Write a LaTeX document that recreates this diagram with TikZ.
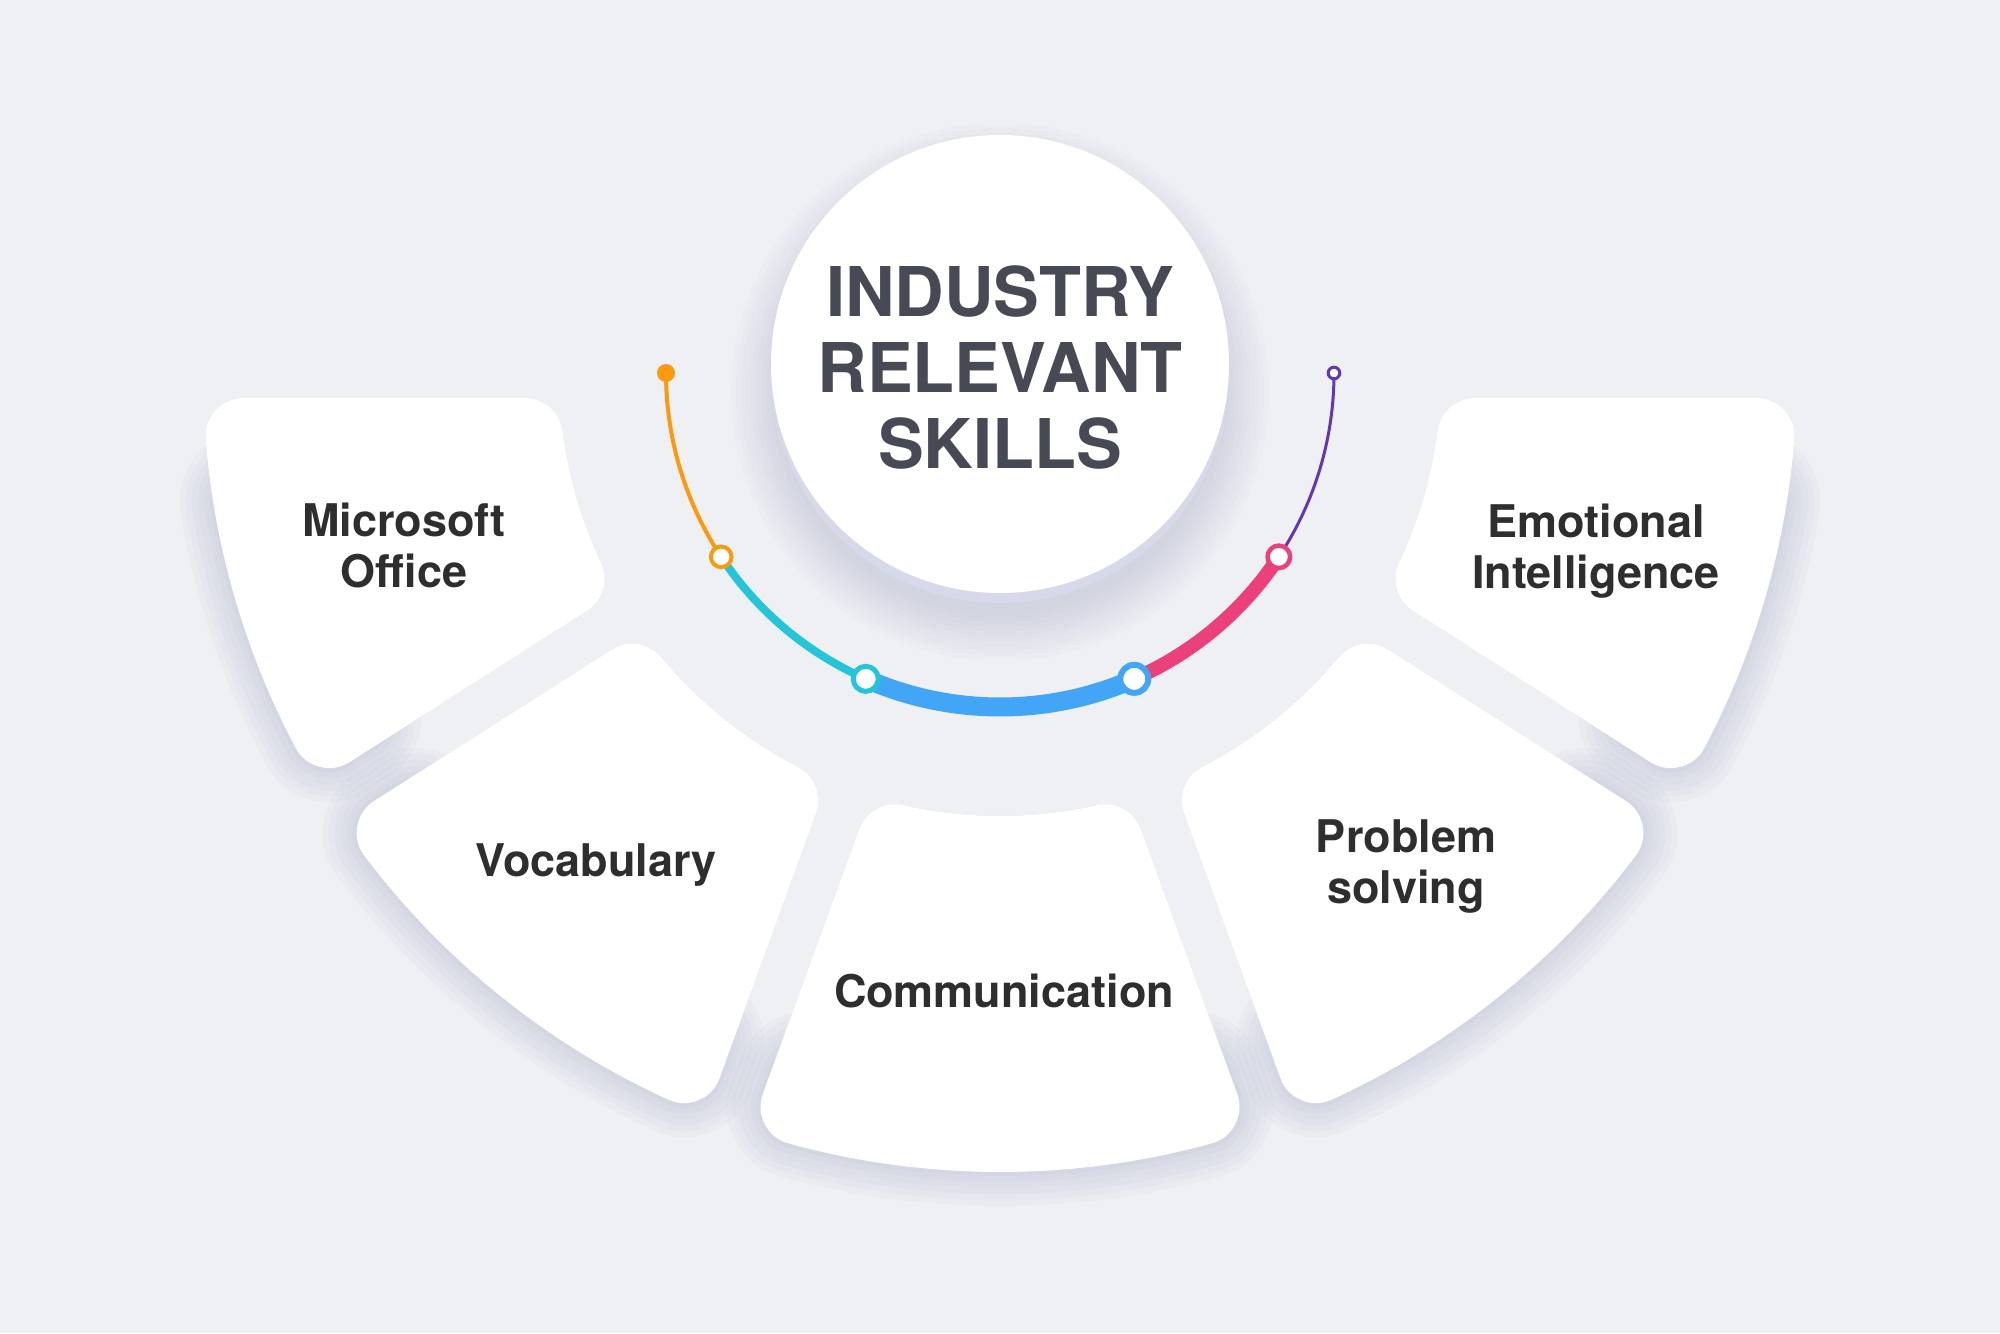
\documentclass[tikz,border=0pt]{standalone}
\usepackage{fontspec}
\setmainfont{TeX Gyre Heros}
\usetikzlibrary{calc}
\definecolor{bg}{HTML}{EFF0F4}
\definecolor{rimcol}{HTML}{D6D9E9}
\definecolor{shadowcol}{HTML}{9EA3C4}
\definecolor{ink}{HTML}{2E2E2E}
\definecolor{headink}{HTML}{474A55}
\definecolor{orangeA}{HTML}{FB9A0E}
\definecolor{cyanA}{HTML}{24C4D9}
\definecolor{blueA}{HTML}{42A5F5}
\definecolor{pinkA}{HTML}{EC407A}
\definecolor{purpleA}{HTML}{6236B5}
\def\Rin{479}
\def\Rout{759}
\def\Rband{735}
\def\dd{61}
\def\Rarc{334}
\tikzset{
  skillsector/.style n args={4}{insert path={
    ($(O)+({#1-asin(\dd/#4)}:#4)$)
    arc[start angle={#1-asin(\dd/#4)}, end angle={#2+asin(\dd/#4)}, radius=#4]
    -- ($(O)+({#2+asin(\dd/#3)}:#3)$)
    arc[start angle={#2+asin(\dd/#3)}, end angle={#1-asin(\dd/#3)}, radius=#3]
    -- cycle}},
  cardlayer/.style={line width=38pt, line join=round},
  lbl/.style={font=\bfseries\fontsize{22.5}{25.5}\selectfont, text=ink, align=center, inner sep=0pt},
  ringnode/.style={circle, fill=white, inner sep=0pt},
}
\begin{document}
\begin{tikzpicture}[x=0.5pt,y=-0.5pt]
\useasboundingbox (0,0) rectangle (2000,1333);
\fill[bg] (0,0) rectangle (2000,1333);
\coordinate (O) at (1000,375);
\coordinate (H) at (1000,364);
\coordinate (A) at (1000,373);
% hub shadow
\foreach \s in {0,10,...,90} {
  \fill[shadowcol, opacity=0.035] ($(H)+(0,28)$) circle[radius={224+\s/2}];
}
% card shadows, cast by the outer band of each card
\foreach \a/\b in {175/147.5, 147.5/110, 110/70, 70/32.5, 32.5/5} {
  \foreach \w in {18,24,...,72} {
    \path[fill=shadowcol, draw=shadowcol, opacity=0.058, cardlayer, line width=\w pt,
          shift={(0,30)}, skillsector={\a}{\b}{\Rband}{\Rout}];
  }
}
% card thickness
\foreach \a/\b in {180/147.5, 147.5/110, 110/70, 70/32.5, 32.5/0} {
  \path[fill=rimcol, draw=rimcol, cardlayer, shift={(0,9)}, skillsector={\a}{\b}{\Rin}{\Rout}];
}
% card faces
\foreach \a/\b in {180/147.5, 147.5/110, 110/70, 70/32.5, 32.5/0} {
  \path[fill=white, draw=white, cardlayer, skillsector={\a}{\b}{\Rin}{\Rout}];
}
% hub
\fill[rimcol] ($(H)+(0,10)$) circle[radius=229];
\node[circle, fill=white, minimum size=229pt, inner sep=0pt] (hub) at (H) {};
\node[align=center, inner sep=0pt, font=\bfseries\fontsize{34.3}{38}\selectfont,
      text=headink] (title) at ($(H)+(0,3)$) {INDUSTRY\\RELEVANT\\SKILLS};
% arc junction coordinates
\coordinate (c0) at ($(A)+(180:\Rarc)$);
\coordinate (c1) at ($(A)+(146.6:\Rarc)$);
\coordinate (c2) at ($(A)+(113.7:\Rarc)$);
\coordinate (c3) at ($(A)+(66.3:\Rarc)$);
\coordinate (c4) at ($(A)+(33.4:\Rarc)$);
\coordinate (c5) at ($(A)+(0:\Rarc)$);
\draw[orangeA, line width=2pt] (c0) arc[start angle=180, end angle=146.6, radius=\Rarc];
\draw[cyanA, line width=4pt] (c1) arc[start angle=146.6, end angle=113.7, radius=\Rarc];
\draw[blueA, line width=9.5pt] (c2) arc[start angle=113.7, end angle=66.3, radius=\Rarc];
\draw[pinkA, line width=7pt] (c3) arc[start angle=66.3, end angle=33.4, radius=\Rarc];
\draw[purpleA, line width=1.5pt] (c4) arc[start angle=33.4, end angle=0, radius=\Rarc];
\node[circle, fill=orangeA, minimum size=9pt, inner sep=0pt] (e0) at (c0) {};
\node[ringnode, draw=orangeA, line width=2pt, minimum size=10.3pt] (j1) at (c1) {};
\node[ringnode, draw=cyanA, line width=2.5pt, minimum size=12.5pt] (j2) at (c2) {};
\node[ringnode, draw=blueA, line width=3pt, minimum size=14pt] (j3) at (c3) {};
\node[ringnode, draw=pinkA, line width=2.25pt, minimum size=11.25pt] (j4) at (c4) {};
\node[ringnode, draw=purpleA, line width=1.5pt, minimum size=5.8pt] (e5) at (c5) {};
% labels (anchor base = baseline of the last line)
\node[lbl, anchor=base] (ms) at (404,587) {Microsoft\\Office};
\node[lbl, anchor=base] (voc) at (596,876) {Vocabulary};
\node[lbl, anchor=base] (com) at (1004,1007) {Communication};
\node[lbl, anchor=base] (prob) at (1406,903) {Problem\\solving};
\node[lbl, anchor=base] (emo) at (1596,588) {Emotional\\Intelligence};
\end{tikzpicture}
\end{document}
